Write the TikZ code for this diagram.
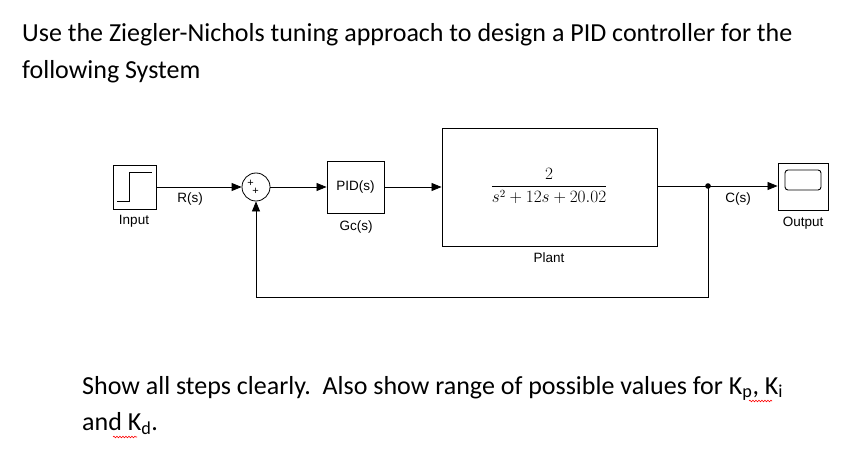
\documentclass[tikz,border=0pt]{standalone}
\usepackage{fontspec}
\setmainfont{Carlito}
\newfontfamily\arialf{Liberation Sans}
\usetikzlibrary{arrows.meta,decorations.pathmorphing}
\begin{document}
\begin{tikzpicture}[x=1pt,y=-1pt,
  blk/.style={draw,line width=0.9pt,inner sep=0pt},
  lbl/.style={font=\arialf\fontsize{13.5}{15}\selectfont,inner sep=0pt},
  con/.style={line width=0.8pt},
  arr/.style={con,-{Triangle[length=10pt,width=8pt]}},
  big/.style={font=\fontsize{26}{30}\selectfont,anchor=base west,inner sep=0pt}]
\useasboundingbox (0,0) rectangle (861,473);
\node[big] (t1) at (22,42) {Use the Ziegler-Nichols tuning approach to design a PID controller for the};
\node[big] (t2) at (22,79) {following System};
\node[big] (b1) at (82,394) {Show all steps clearly.\ \ Also show range of possible values for K\textsubscript{p}, K\textsubscript{i}};
\node[big] (b2) at (82,430) {and K\textsubscript{d}.};
\draw[red,line width=0.6pt,decorate,decoration={snake,amplitude=0.8pt,segment length=3pt}] (749,401)--(772,401);
\draw[red,line width=0.6pt,decorate,decoration={snake,amplitude=0.8pt,segment length=3pt}] (113,437)--(137,437);
% blocks
\node[blk,minimum width=43pt,minimum height=44pt] (in) at (134.5,187) {};
\draw[line width=0.8pt] (117,201)--(129,201)--(129,172)--(152,172);
\node[lbl] (inl) at (134,221) {Input};
\node[draw,circle,line width=0.8pt,minimum size=28pt,inner sep=0pt] (sum) at (256,187) {};
\node[lbl,font=\arialf\fontsize{11}{11}\selectfont] (p1) at (250.5,183) {+};
\node[lbl,font=\arialf\fontsize{11}{11}\selectfont] (p2) at (255.5,191) {+};
\node[blk,minimum width=57pt,minimum height=52pt,lbl] (pid) at (355.5,187) {PID(s)};
\node[lbl] (gc) at (356,227) {Gc(s)};
\node[blk,minimum width=215pt,minimum height=118pt] (pl) at (549.5,187) {};
\node[inner sep=0pt,font=\rmfamily\fontsize{16}{18}\selectfont] (tf) at (549,186) {$\displaystyle\frac{2}{s^2+12s+20.02}$};
\node[lbl] (pll) at (549,258) {Plant};
\node[blk,minimum width=50pt,minimum height=47pt] (out) at (803,186.5) {};
\draw[line width=0.9pt,rounded corners=3pt] (785,170) rectangle (821,190);
\node[lbl] (outl) at (803,223) {Output};
\coordinate (j) at (708,186);
\fill (j) circle (2.8pt);
\coordinate (fb1) at (708,297);
\coordinate (fb2) at (256,297);
% connectors
\draw[arr] (in.east |- 0,187) -- (sum.west);
\node[lbl] (rs) at (190,199) {R(s)};
\draw[arr] (sum.east) -- (pid.west);
\draw[arr] (pid.east) -- (pl.west);
\draw[con] (pl.east |- 0,186) -- (j);
\draw[arr] (j) -- (out.west |- 0,186);
\node[lbl] (cs) at (738,199) {C(s)};
\draw[arr] (j) -- (fb1) -- (fb2) -- (sum.south);
\end{tikzpicture}
\end{document}
